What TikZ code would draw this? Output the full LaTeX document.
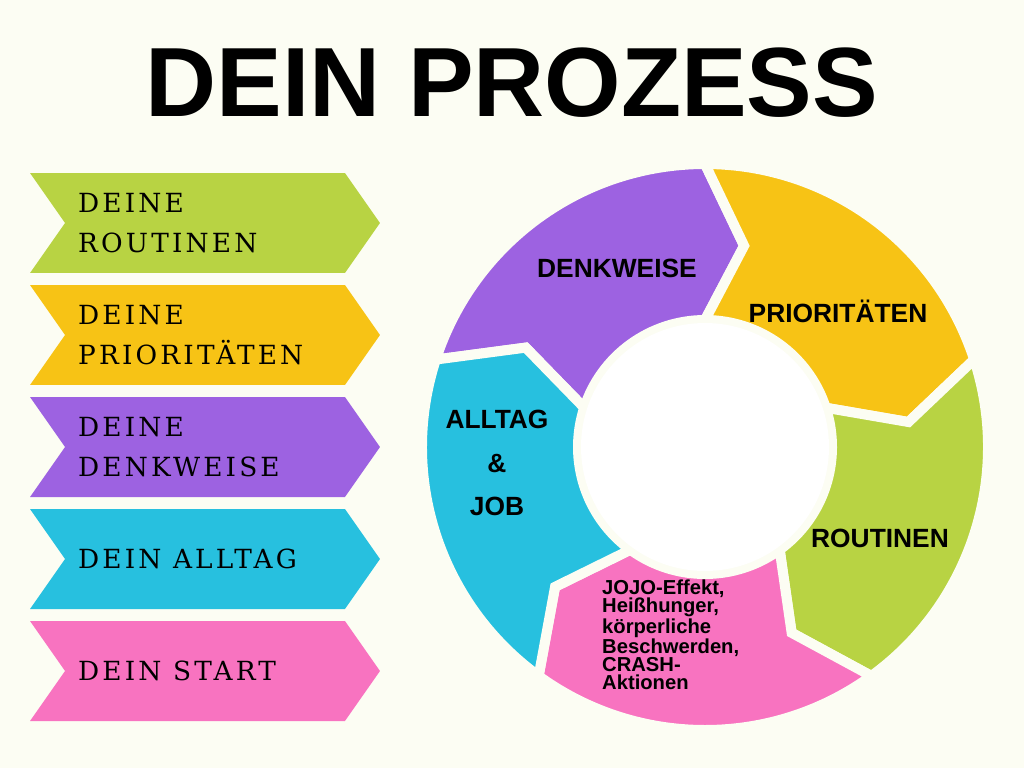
\documentclass[tikz,border=0pt]{standalone}
\usepackage{fontspec}
\setmainfont{Liberation Sans}
\newfontfamily\slabfont[LetterSpace=12]{DejaVu Serif}
\usetikzlibrary{shapes.symbols}

\definecolor{bgCream}{HTML}{FCFDF3}
\definecolor{segGreen}{HTML}{B8D343}
\definecolor{segYellow}{HTML}{F7C315}
\definecolor{segPurple}{HTML}{9D62E1}
\definecolor{segCyan}{HTML}{27C0DF}
\definecolor{segPink}{HTML}{F873C0}

\begin{document}
\begin{tikzpicture}[x=0.02cm, y=-0.02cm,
		chevron/.style={signal, signal to=east, signal from=west, signal pointer angle=110,
			minimum width=7cm, minimum height=2cm, inner sep=0pt},
		chevText/.style={anchor=west, align=left, font=\slabfont\fontsize{15}{22.7}\selectfont},
		ringText/.style={align=center, font=\bfseries\fontsize{15}{14.7}\selectfont}]
		
		% Background
		\fill[bgCream] (0,0) rectangle (1024,768);
		\useasboundingbox (0,0) rectangle (1024,768);
		
		% Title
		\node[font=\bfseries\fontsize{56}{60}\selectfont] (title) at (512,83) {DEIN PROZESS};
		
		% Chevrons
		\node[chevron, fill=segGreen] (routinen) at (205,223) {};
		\node[chevron, fill=segYellow] (prioritaeten) at (205,335) {};
		\node[chevron, fill=segPurple] (denkweise) at (205,447) {};
		\node[chevron, fill=segCyan] (alltag) at (205,559) {};
		\node[chevron, fill=segPink] (start) at (205,671) {};
		
		\node[chevText] (routinenText) at (72,223) {DEINE\\ROUTINEN};
		\node[chevText] (prioritaetenText) at (72,335) {DEINE\\PRIORITÄTEN};
		\node[chevText] (denkweiseText) at (72,447) {DEINE\\DENKWEISE};
		\node[chevText] (alltagText) at (72,559) {DEIN ALLTAG};
		\node[chevText] (startText) at (72,671) {DEIN START};
		
		% Ring
		\begin{scope}[shift={(705,447)}, x=0.02cm, y=0.02cm]
			\foreach \a/\col in {162/segPurple, 90/segYellow, 18/segGreen, -54/segPink, -126/segCyan}{
				\pgfmathsetmacro{\b}{\a-72}
				\fill[\col, draw=bgCream, line width=0.2cm, line join=miter]
					(\a:283) arc[start angle=\a, end angle=\b, radius=283]
					-- ({\b-11}:205) -- (\b:127)
					arc[start angle=\b, end angle=\a, radius=127]
					-- ({\a-11}:205) -- cycle;
			}
			\fill[white] (0,0) circle[radius=124];
		\end{scope}
		
		% Ring labels
		\node[ringText] (denkweiseLabel) at (617,268) {DENKWEISE};
		\node[ringText] (prioritaetenLabel) at (838,311) {PRIORITÄTEN};
		\node[ringText] (routinenLabel) at (880,538) {ROUTINEN};
		\node[ringText, text height=] (alltagLabel) at (497,463) {ALLTAG\\[10pt]\&\\[10pt]JOB};
		\node[anchor=west, align=left, font=\bfseries\fontsize{11.5}{10.2}\selectfont] (startLabel) at (596,635)
			{JOJO-Effekt,\\Heißhunger,\\körperliche\\Beschwerden,\\CRASH-\\Aktionen};
		
	\end{tikzpicture}
\end{document}
